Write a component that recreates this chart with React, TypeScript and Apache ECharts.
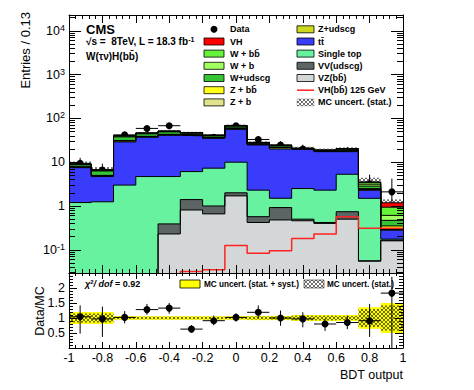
import React, { useEffect, useRef } from 'react';
import * as echarts from 'echarts';

// ---------- data ----------
const binCenters = [-0.9333, -0.8, -0.6667, -0.5333, -0.4, -0.2667, -0.1333, 0, 0.1333, 0.2667, 0.4, 0.5333, 0.6667, 0.8, 0.9333];
const binWidth = 0.13333;

// stacked MC components (bottom -> top)
const vzbb = [0.005, 0.005, 0.005, 0.008, 0.23, 0.81, 0.66, 1.7, 0.42, 0.48, 0.46, 0.40, 0.50, 0.055, 0.16];
const vvudscg = [0.002, 0.002, 0.002, 0.003, 0.16, 0.59, 0.34, 0.30, 0.15, 0.44, 0.04, 0.02, 0.24, 0.001, 0.005];
const singleTop = [1.19, 1.24, 2.99, 4.69, 4.31, 4.7, 6.3, 8.0, 1.73, 0.58, 2.0, 1.88, 4.56, 1.44, 0.01];
const ttbar = [6.3, 3.45, 26, 32.3, 36.3, 33.9, 27.7, 46, 22.4, 18.5, 17.2, 15.1, 12.1, 0.8, 0.105];
const zudscg = [0.2, 0.2, 1.5, 1.3, 1.5, 1.2, 1.5, 3.0, 1.0, 1.4, 0.3, 0.4, 0.8, 0.05, 0.01];
const zb = [0.05, 0.05, 0.4, 0.3, 0.4, 0.3, 0.3, 0.6, 0.2, 0.2, 0.05, 0.1, 0.15, 0.05, 0.01];
const zbb = [0.05, 0.05, 0.4, 0.3, 0.3, 0.3, 0.3, 0.6, 0.2, 0.2, 0.05, 0.1, 0.15, 0.1, 0.05];
const wudscg = [0.9, 1.3, 6.5, 5.5, 6.0, 4.0, 3.0, 6.0, 1.5, 1.7, 0.45, 0.6, 1.2, 0.35, 0.12];
const wb = [0.15, 0.2, 1.4, 1.1, 1.2, 0.8, 0.7, 1.4, 0.3, 0.4, 0.1, 0.1, 0.3, 0.3, 0.14];
const wbb = [0.13, 0.18, 1.2, 0.9, 1.0, 0.8, 0.6, 1.2, 0.3, 0.3, 0.1, 0.15, 0.3, 0.3, 0.33];
const vh = [0.02, 0.02, 0.1, 0.1, 0.1, 0.1, 0.1, 0.2, 0.1, 0.1, 0.05, 0.05, 0.1, 0.1, 0.24];

// unstacked signal line
const vhSignal = [0.01, 0.01, 0.01, 0.01, 0.02, 0.032, 0.035, 0.125, 0.083, 0.095, 0.18, 0.23, 0.57, 0.31, 0.31];

// data
const dataCounts = [9.4, 6.6, 42, 59, 68, 30.5, 37, 68, 33, 24.7, 20, 15, 17.7, 3.2, 2.1];
const dataHi = [12.6, 9.2, 49, 67, 77, 37, 43.5, 76.5, 39, 30, 25, 19.3, 22.3, 5.2, 4.2];
const dataLo = [6.3, 4.2, 35.5, 51, 59, 25, 31, 60, 27, 19.5, 15.5, 11.5, 13.5, 1.5, 0.65];

// relative MC uncertainties
const mcStatUpperRel = [0.15, 0.15, 0.04, 0.04, 0.04, 0.04, 0.04, 0.04, 0.05, 0.05, 0.08, 0.08, 0.07, 0.25, 0.2];
const mcStatRel = [0.15, 0.15, 0.04, 0.04, 0.04, 0.04, 0.04, 0.04, 0.05, 0.05, 0.08, 0.08, 0.07, 0.3, 0.42];
const mcTotRel = [0.2, 0.2, 0.06, 0.06, 0.06, 0.06, 0.06, 0.06, 0.07, 0.07, 0.1, 0.1, 0.1, 0.36, 0.5];

// ratio panel
const ratio = [1.04, 0.97, 1.02, 1.28, 1.33, 0.63, 0.91, 1.02, 1.19, 1.0, 0.97, 0.80, 0.85, 0.91, 1.83];
const ratioHi = [1.42, 1.38, 1.23, 1.47, 1.50, 0.76, 1.08, 1.16, 1.42, 1.25, 1.19, 0.97, 1.08, 1.47, 2.37];
const ratioLo = [0.48, 0.37, 0.82, 1.11, 1.14, 0.52, 0.76, 0.88, 1.0, 0.74, 0.69, 0.57, 0.63, 0.37, 0.0];

const logTickLabels = [-1, 0, 1, 2, 3, 4];
const xTickLabels = [-1, -0.8, -0.6, -0.4, -0.2, 0, 0.2, 0.4, 0.6, 0.8, 1];

const FONT = 'Liberation Sans, Arial, Helvetica, sans-serif';

const COLORS = {
  vh: '#ff0000',
  wbb: '#66f23a',
  wb: '#a2ff60',
  wudscg: '#34c434',
  zbb: '#ffff1a',
  zb: '#dfe38a',
  zudscg: '#cdd91c',
  tt: '#3a3cfb',
  st: '#66f29e',
  vv: '#5c6464',
  vz: '#d3d7d7',
};

const L = (v: number) => Math.log10(Math.max(v, 1e-4));

function makeHatch() {
  const c = document.createElement('canvas');
  c.width = 4;
  c.height = 4;
  const ctx = c.getContext('2d')!;
  ctx.strokeStyle = 'rgba(0,0,0,0.8)';
  ctx.lineWidth = 0.7;
  ctx.beginPath();
  ctx.moveTo(0, 0); ctx.lineTo(4, 4);
  ctx.moveTo(4, 0); ctx.lineTo(0, 4);
  ctx.stroke();
  return { image: c.toDataURL(), repeat: 'repeat', imageWidth: 4, imageHeight: 4 } as any;
}

export default function App() {
  const ref = useRef<HTMLDivElement>(null);

  useEffect(() => {
    if (!ref.current) return;
    const chart = echarts.init(ref.current, null, { renderer: 'svg' });
    const hatch = makeHatch();
    const n = binCenters.length;
    const edges = binCenters.map((c) => c - binWidth / 2).concat([binCenters[n - 1] + binWidth / 2]);

    const stackOrder = [
      { key: 'vz', vals: vzbb },
      { key: 'vv', vals: vvudscg },
      { key: 'st', vals: singleTop },
      { key: 'tt', vals: ttbar },
      { key: 'zudscg', vals: zudscg },
      { key: 'zb', vals: zb },
      { key: 'zbb', vals: zbb },
      { key: 'wudscg', vals: wudscg },
      { key: 'wb', vals: wb },
      { key: 'wbb', vals: wbb },
      { key: 'vh', vals: vh },
    ];
    const cums: number[][] = [];
    let running = new Array(n).fill(0);
    stackOrder.forEach((l) => {
      running = running.map((r, i) => r + l.vals[i]);
      cums.push(running.slice());
    });
    const total = cums[cums.length - 1];

    const stepData = (vals: number[]) => edges.map((e, i) => [e, L(vals[Math.min(i, n - 1)])]);

    const series: any[] = [];
    for (let k = stackOrder.length - 1; k >= 0; k--) {
      const col = (COLORS as any)[stackOrder[k].key];
      series.push({
        type: 'line',
        xAxisIndex: 0,
        yAxisIndex: 0,
        step: 'end',
        symbol: 'none',
        silent: true,
        clip: true,
        data: stepData(cums[k]),
        lineStyle: { color: '#000', width: 1 },
        areaStyle: { color: col, opacity: 1, origin: 'start' },
      });
    }

    const bandItem = (fill: any) => (params: any, api: any) => {
      const x = api.value(0);
      const p0 = api.coord([x - binWidth / 2, api.value(2)]);
      const p1 = api.coord([x + binWidth / 2, api.value(1)]);
      return {
        type: 'rect',
        shape: { x: p0[0], y: p0[1], width: p1[0] - p0[0], height: p1[1] - p0[1] },
        style: { fill },
      };
    };

    // upper hatched MC stat band
    series.push({
      type: 'custom',
      xAxisIndex: 0,
      yAxisIndex: 0,
      clip: true,
      silent: true,
      data: binCenters.map((c, i) => [c, L(total[i] * (1 - mcStatUpperRel[i])), L(total[i] * (1 + mcStatUpperRel[i]))]),
      encode: { x: 0, y: [1, 2] },
      renderItem: bandItem(hatch),
    });

    // signal line
    series.push({
      type: 'line',
      xAxisIndex: 0,
      yAxisIndex: 0,
      step: 'end',
      symbol: 'none',
      silent: true,
      clip: true,
      data: stepData(vhSignal),
      lineStyle: { color: '#f22', width: 1.5 },
    });

    const pointItem = (params: any, api: any) => {
      const x = api.value(0);
      const y = api.value(1);
      const p = api.coord([x, y]);
      const pl = api.coord([x - binWidth / 2, y]);
      const pr = api.coord([x + binWidth / 2, y]);
      const plo = api.coord([x, api.value(2)]);
      const phi = api.coord([x, api.value(3)]);
      return {
        type: 'group',
        children: [
          { type: 'line', shape: { x1: pl[0], y1: p[1], x2: pr[0], y2: p[1] }, style: { stroke: '#000', lineWidth: 1 } },
          { type: 'line', shape: { x1: p[0], y1: phi[1], x2: p[0], y2: plo[1] }, style: { stroke: '#000', lineWidth: 1 } },
          { type: 'circle', shape: { cx: p[0], cy: p[1], r: 3.5 }, style: { fill: '#000' } },
        ],
      };
    };

    series.push({
      type: 'custom',
      xAxisIndex: 0,
      yAxisIndex: 0,
      clip: true,
      silent: true,
      data: binCenters.map((c, i) => [c, L(dataCounts[i]), L(dataLo[i]), L(dataHi[i])]),
      encode: { x: 0, y: 1 },
      renderItem: pointItem,
    });

    // ratio bands
    series.push({
      type: 'custom',
      xAxisIndex: 2,
      yAxisIndex: 4,
      clip: true,
      silent: true,
      data: binCenters.map((c, i) => [c, 1 - mcTotRel[i], 1 + mcTotRel[i]]),
      encode: { x: 0, y: [1, 2] },
      renderItem: bandItem('#ffff00'),
    });
    series.push({
      type: 'custom',
      xAxisIndex: 2,
      yAxisIndex: 4,
      clip: true,
      silent: true,
      data: binCenters.map((c, i) => [c, 1 - mcStatRel[i], 1 + mcStatRel[i]]),
      encode: { x: 0, y: [1, 2] },
      renderItem: bandItem(hatch),
    });
    series.push({
      type: 'custom',
      xAxisIndex: 2,
      yAxisIndex: 4,
      clip: true,
      silent: true,
      data: binCenters.map((c, i) => [c, ratio[i], ratioLo[i], ratioHi[i]]),
      encode: { x: 0, y: 1 },
      renderItem: pointItem,
    });

    const yMin = -1.53;
    const yMax = 4.36;
    const minorLogs: number[] = [];
    for (let d = -2; d <= 4; d++) {
      for (let k = 2; k <= 9; k++) {
        const v = d + Math.log10(k);
        if (v > yMin && v < yMax) minorLogs.push(v);
      }
    }

    const black = { color: '#000', width: 1 };
    const xBase = (grid: number, pos: string, labels: boolean, major: number, minor: number) => ({
      type: 'value',
      gridIndex: grid,
      position: pos,
      min: -1,
      max: 1,
      interval: 0.2,
      z: 10,
      axisLine: { show: true, onZero: false, lineStyle: black },
      axisTick: { show: true, inside: true, length: major, lineStyle: black },
      minorTick: { show: true, splitNumber: 5, length: minor, lineStyle: black },
      splitLine: { show: false },
      axisLabel: labels
        ? { show: true, color: '#000', fontFamily: FONT, fontSize: 12.5, margin: 3, customValues: xTickLabels, formatter: (v: number) => String(Math.round(v * 10) / 10) }
        : { show: false },
    });

    const supRich = {
      b: { fontSize: 12.5, fontFamily: FONT, color: '#000', lineHeight: 15 },
      s: { fontSize: 9, fontFamily: FONT, color: '#000', lineHeight: 10, verticalAlign: 'top' },
    };

    const yLog = (pos: string, major: boolean, labels: boolean) => ({
      type: 'value',
      gridIndex: 0,
      position: pos,
      min: yMin,
      max: yMax,
      z: 10,
      axisLine: { show: major, onZero: false, lineStyle: black },
      axisTick: { show: true, inside: true, length: major ? 12 : 6, customValues: major ? logTickLabels : minorLogs, lineStyle: black },
      splitLine: { show: false },
      axisLabel: labels
        ? {
            show: true,
            margin: 4,
            customValues: logTickLabels,
            formatter: (v: number) => {
              const e = Math.round(v);
              if (e === 0) return '{b|1}';
              if (e === 1) return '{b|10}';
              return '{b|10}{s|' + e + '}';
            },
            rich: supRich,
          }
        : { show: false },
    });

    const yRatio = (pos: string, labels: boolean) => ({
      type: 'value',
      gridIndex: 1,
      position: pos,
      min: 0,
      max: 2.5,
      interval: 0.5,
      z: 10,
      axisLine: { show: true, onZero: false, lineStyle: black },
      axisTick: { show: true, inside: true, length: 8, lineStyle: black },
      minorTick: { show: true, splitNumber: 5, length: 4, lineStyle: black },
      splitLine: { show: false },
      axisLabel: labels
        ? {
            show: true,
            color: '#000',
            fontFamily: FONT,
            fontSize: 12.5,
            margin: 4,
            formatter: (v: number) => (v === 0 || v >= 2.5 ? '' : String(v)),
          }
        : { show: false },
    });

    const T = (x: number, y: number, text: string, opts: any = {}) => ({
      type: 'text',
      x,
      y,
      z: 100,
      style: {
        text,
        fill: '#000',
        font: opts.font || `bold 9px ${FONT}`,
        align: opts.align || 'left',
        verticalAlign: opts.va || 'middle',
        rich: opts.rich,
      },
      rotation: opts.rotation || 0,
    });

    const legendRows = [29.3, 41.5, 53.6, 65.8, 78, 90.2, 102.4];
    const box = (x: number, y: number, w: number, fill: any) => ({
      type: 'rect',
      z: 100,
      shape: { x, y: y - 3.5, width: w, height: 7 },
      style: { fill, stroke: '#000', lineWidth: 0.8 },
    });

    const col1 = [
      { t: 'Data', kind: 'dot' },
      { t: 'VH', c: COLORS.vh },
      { t: 'W + bb\u0304', c: COLORS.wbb },
      { t: 'W + b', c: COLORS.wb },
      { t: 'W+udscg', c: COLORS.wudscg },
      { t: 'Z + bb\u0304', c: COLORS.zbb },
      { t: 'Z + b', c: COLORS.zb },
    ];
    const col2 = [
      { t: 'Z+udscg', c: COLORS.zudscg },
      { t: 'tt\u0304', c: COLORS.tt },
      { t: 'Single top', c: COLORS.st },
      { t: 'VV(udscg)', c: COLORS.vv },
      { t: 'VZ(bb\u0304)', c: COLORS.vz },
      { t: 'VH(bb\u0304) 125 GeV', kind: 'line' },
      { t: 'MC uncert. (stat.)', kind: 'hatch' },
    ];

    const graphics: any[] = [];
    col1.forEach((it: any, i) => {
      const y = legendRows[i];
      if (it.kind === 'dot') {
        graphics.push({ type: 'circle', z: 100, shape: { cx: 214, cy: y, r: 3.5 }, style: { fill: '#000' } });
      } else {
        graphics.push(box(204, y, 20, it.c));
      }
      graphics.push(T(230, y, it.t));
    });
    col2.forEach((it: any, i) => {
      const y = legendRows[i];
      if (it.kind === 'line') {
        graphics.push({ type: 'line', z: 100, shape: { x1: 297, y1: y, x2: 314, y2: y }, style: { stroke: '#f22', lineWidth: 1.5 } });
      } else if (it.kind === 'hatch') {
        graphics.push({ type: 'rect', z: 100, shape: { x: 297, y: y - 3.5, width: 17, height: 7 }, style: { fill: hatch, stroke: 'rgba(0,0,0,0.4)', lineWidth: 0.5 } });
      } else {
        graphics.push(box(297, y, 17, it.c));
      }
      graphics.push(T(318, y, it.t));
    });

    graphics.push(T(86, 29, 'CMS', { font: `bold 13px ${FONT}` }));
    graphics.push(
      T(86, 41.5, '{a|\u221As =  8TeV, L = 18.3 fb}{s|-1}', {
        rich: {
          a: { font: `bold 10px ${FONT}`, fill: '#000', lineHeight: 12 },
          s: { font: `bold 7px ${FONT}`, fill: '#000', lineHeight: 8, verticalAlign: 'top' },
        },
      })
    );
    graphics.push(T(86, 56, 'W(\u03C4\u03BD)H(bb\u0304)', { font: `bold 10px ${FONT}` }));

    graphics.push(T(25, 12, 'Entries / 0.13', { font: `13px ${FONT}`, align: 'right', rotation: Math.PI / 2 }));
    graphics.push(T(40, 311, 'Data/MC', { font: `12.5px ${FONT}`, align: 'center', rotation: Math.PI / 2 }));
    graphics.push(T(403, 375, 'BDT output', { font: `12.5px ${FONT}`, align: 'right' }));

    graphics.push(
      T(85, 284, '{i|\u03C7}{s|2}{i|/ dof}{a| = 0.92}', {
        rich: {
          i: { font: `italic bold 9px ${FONT}`, fill: '#000', lineHeight: 11 },
          a: { font: `bold 9px ${FONT}`, fill: '#000', lineHeight: 11 },
          s: { font: `bold 6px ${FONT}`, fill: '#000', lineHeight: 7, verticalAlign: 'top' },
        },
      })
    );
    const smallFont = `bold 8.2px ${FONT}`;
    graphics.push({ type: 'rect', z: 100, shape: { x: 180, y: 280, width: 20, height: 8 }, style: { fill: '#ffff00', stroke: '#000', lineWidth: 0.8 } });
    graphics.push(T(204, 284, 'MC uncert. (stat. + syst.)', { font: smallFont }));
    graphics.push({ type: 'rect', z: 100, shape: { x: 304, y: 280, width: 20, height: 8 }, style: { fill: hatch, stroke: '#000', lineWidth: 0.5 } });
    graphics.push(T(327, 284, 'MC uncert. (stat.)', { font: smallFont }));

    chart.setOption({
      animation: false,
      backgroundColor: '#fff',
      grid: [
        { left: 69, top: 15, width: 334, height: 258 },
        { left: 69, top: 273, width: 334, height: 75 },
      ],
      xAxis: [xBase(0, 'bottom', false, 8, 4), xBase(0, 'top', false, 8, 4), xBase(1, 'bottom', true, 6, 3), xBase(1, 'top', false, 6, 3)],
      yAxis: [yLog('left', true, true), yLog('left', false, false), yLog('right', true, false), yLog('right', false, false), yRatio('left', true), yRatio('right', false)],
      series,
      graphic: graphics,
    });

    return () => chart.dispose();
  }, []);

  return <div ref={ref} style={{ position: 'fixed', left: 0, top: 0, width: 474, height: 390, background: '#fff' }} />;
}
